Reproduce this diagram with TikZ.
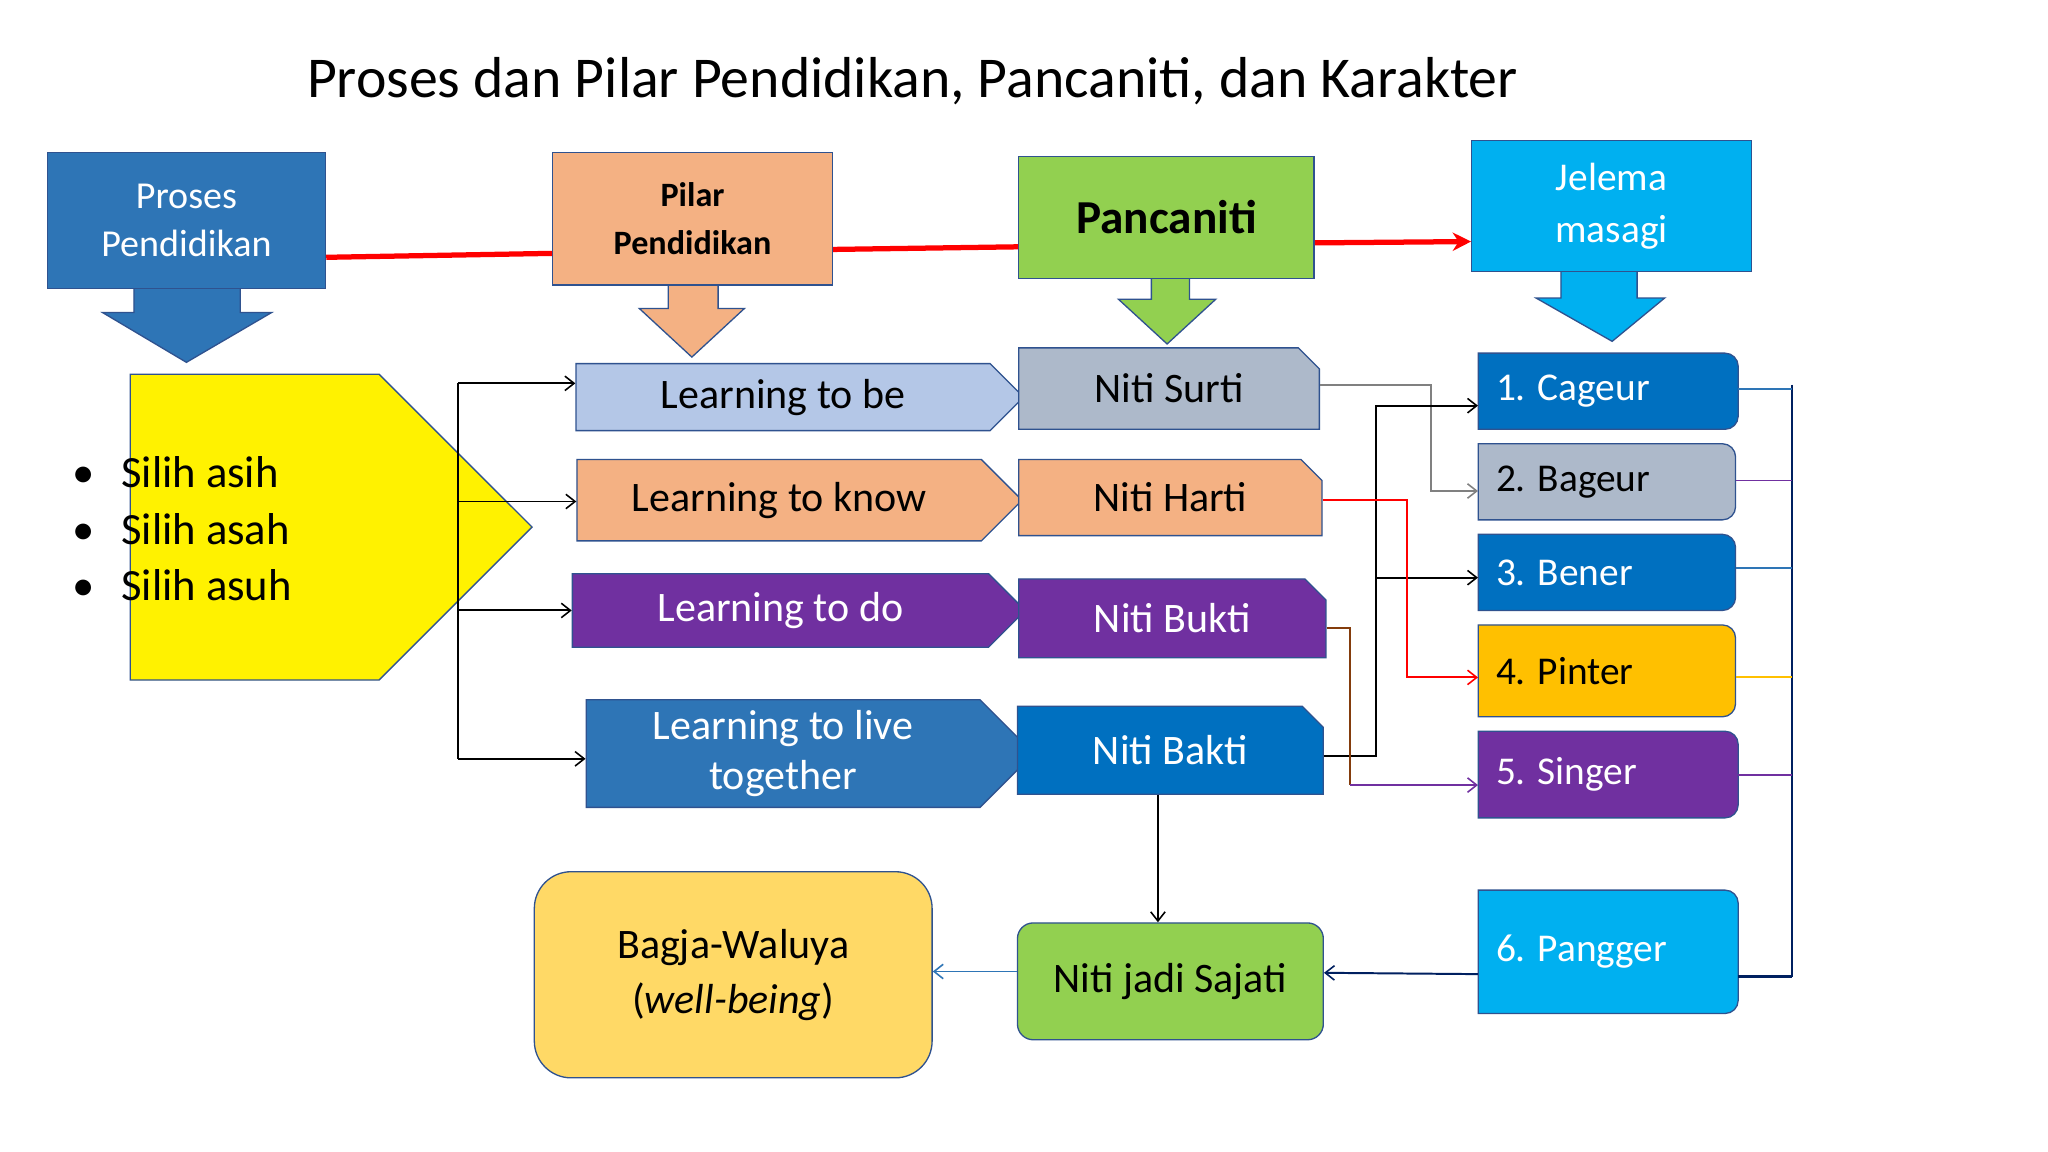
\documentclass[tikz,border=0pt]{standalone}
\usepackage{fontspec}
\setmainfont{Carlito}
\usetikzlibrary{shapes.misc,shapes.symbols,arrows.meta}
\definecolor{bdr}{HTML}{2F528F}
\definecolor{cblue}{HTML}{2E75B6}
\definecolor{cpeach}{HTML}{F4B183}
\definecolor{cgreen}{HTML}{92D050}
\definecolor{ccyan}{HTML}{00B0F0}
\definecolor{clight}{HTML}{B4C7E7}
\definecolor{cpurple}{HTML}{7030A0}
\definecolor{cdblue}{HTML}{0070C0}
\definecolor{cgray}{HTML}{ADB9CA}
\definecolor{cgold}{HTML}{FFC000}
\definecolor{cyel}{HTML}{FFD966}
\definecolor{cnavy}{HTML}{002060}
\definecolor{cbrown}{HTML}{843C0C}
\newcommand\myrbox[8]{%
  \filldraw[fill=#6,draw=bdr,line width=1pt] (#2,#5) -- (#2,#3) [rounded corners=10pt] -- (#4,#3) -- (#4,#5) [sharp corners] -- cycle;
  \node[inner sep=0,minimum width={(#4-#2)*1pt},minimum height={(#5-#3)*1pt}] (#1) at ({(#2+#4)/2},{(#3+#5)/2}) {};
  \node[anchor=west,text=#7,font=\fontsize{30}{34}\selectfont] at ({#2+10},{(#3+#5)/2}) {#8};}
\newcommand\mycbox[8]{%
  \node[chamfered rectangle,chamfered rectangle corners=north east,chamfered rectangle xsep=8pt,chamfered rectangle ysep=8pt,
    fill=#6,draw=bdr,line width=1pt,inner sep=0,minimum width={(#4-#2)*1pt},minimum height={(#5-#3)*1pt},
    text=#7,font=\fontsize{32}{36}\selectfont] (#1) at ({(#2+#4)/2},{(#3+#5)/2}) {#8};}
\newcommand\mysbox[8]{%
  \node[signal,signal to=east,signal from=nowhere,signal pointer angle=90,
    fill=#6,draw=bdr,line width=1pt,inner sep=0,minimum width={(#4-#2)*1pt},minimum height={(#5-#3)*1pt},
    text=#7,font=\fontsize{32}{38}\selectfont,align=center] (#1) at ({(#2+#4)/2},{(#3+#5)/2}) {#8};}
\tikzset{
  hdr/.style={draw=bdr,line width=1pt,inner sep=0,align=center},
  tip/.style={-{Straight Barb[length=7pt,width=11pt,line width=1.2pt]}},
  conn/.style={line width=1.5pt}
}
\begin{document}
\begin{tikzpicture}[x=1pt,y=-1pt]
\useasboundingbox[fill=white] (0,0) rectangle (1560,877.5);
\node[font=\fontsize{44}{50}\selectfont] (title) at (695,62) {Proses dan Pilar Pendidikan, Pancaniti, dan Karakter};

% headers
\filldraw[fill=cblue,draw=bdr,line width=1pt] (102,219)--(102,238)--(78,238)--(142,276)--(207,238)--(183,238)--(183,219)--cycle;
\node[hdr,fill=cblue,text=white,minimum width=212pt,minimum height=104pt,font=\fontsize{29}{36}\selectfont] (pp) at (142,168) {Proses\\Pendidikan};
\filldraw[fill=cpeach,draw=bdr,line width=1pt] (509,216)--(509,235)--(487,235)--(527,272)--(567,235)--(547,235)--(547,216)--cycle;
\node[hdr,fill=cpeach,minimum width=213pt,minimum height=101pt,font=\fontsize{26}{36}\selectfont\bfseries] (pil) at (527.5,166.5) {Pilar\\Pendidikan};
\filldraw[fill=cgreen,draw=bdr,line width=1pt] (877,211)--(877,228)--(852,228)--(889,262)--(926,228)--(906,228)--(906,211)--cycle;
\node[hdr,fill=cgreen,minimum width=225pt,minimum height=93pt,font=\fontsize{36}{40}\selectfont\bfseries] (pan) at (888.5,165.5) {Pancaniti};
\filldraw[fill=ccyan,draw=bdr,line width=1pt] (1189,206)--(1189,227)--(1170,227)--(1228,260)--(1268,227)--(1247,227)--(1247,206)--cycle;
\node[hdr,fill=ccyan,text=white,minimum width=213pt,minimum height=100pt,font=\fontsize{30}{40}\selectfont] (jel) at (1227.5,157) {Jelema\\masagi};

\draw[red,line width=4pt] (pp.east |- 0,196) -- (pil.west |- 0,193);
\draw[red,line width=4pt] (pil.east |- 0,190) -- (pan.west |- 0,188);
\draw[red,line width=4pt,-{Stealth[length=14pt,width=14pt]}] (pan.east |- 0,185) -- (jel.west |- 0,184);

% yellow pentagon
\node[signal,signal to=east,signal from=nowhere,signal pointer angle=90,fill=yellow,draw=bdr,line width=1pt,inner sep=0,
  minimum width=306pt,minimum height=233pt] (silih) at (194,401.5) {};
\node[anchor=west,align=left,font=\fontsize{34}{43}\selectfont] (silt) at (52,403) {•\hspace{20pt}Silih asih\\•\hspace{20pt}Silih asah\\•\hspace{20pt}Silih asuh};

% learning
\mysbox{l1}{426}{277}{767}{328}{clight}{black}{Learning to be}
\mysbox{l2}{424}{350}{763}{412}{cpeach}{black}{Learning to know}
\mysbox{l3}{422}{437}{767}{493}{cpurple}{white}{Learning to do}
\mysbox{l4}{426}{533}{767}{615}{cblue}{white}{Learning to live\\together}
\draw[conn] (349,292) -- (349,578);
\draw[conn,tip] (349,292) -- (l1.west |- 0,292);
\draw[conn,tip] (349,382) -- (l2.west |- 0,382);
\draw[conn,tip] (349,465) -- (l3.west |- 0,465);
\draw[conn,tip] (349,578) -- (l4.west |- 0,578);

% niti
\mycbox{ns}{776}{265}{1005}{327}{cgray}{black}{Niti Surti}
\mycbox{nh}{776}{350}{1007}{408}{cpeach}{black}{Niti Harti}
\mycbox{nbu}{776}{441}{1010}{501}{cpurple}{white}{Niti Bukti}
\mycbox{nba}{775}{538}{1008}{605}{cdblue}{white}{Niti Bakti}
\node[draw=bdr,line width=1pt,fill=cgreen,rounded corners=12pt,minimum width=233pt,minimum height=89pt,inner sep=0,font=\fontsize{32}{36}\selectfont] (nj) at (891.5,747.5) {Niti jadi Sajati};
\node[draw=bdr,line width=1pt,fill=cyel,rounded corners=28pt,minimum width=303pt,minimum height=157pt,inner sep=0,align=center,font=\fontsize{32}{42}\selectfont] (bw) at (558.5,742.5) {Bagja-Waluya\\(\textit{well-being})};

% jelema items
\myrbox{j1}{1126}{269}{1324}{327}{cdblue}{white}{1. Cageur}
\myrbox{j2}{1126}{338}{1322}{396}{cgray}{black}{2. Bageur}
\myrbox{j3}{1126}{407}{1322}{465}{cdblue}{white}{3. Bener}
\myrbox{j4}{1126}{476}{1322}{546}{cgold}{black}{4. Pinter}
\myrbox{j5}{1126}{557}{1324}{623}{cpurple}{white}{5. Singer}
\myrbox{j6}{1126}{678}{1324}{772}{ccyan}{white}{6. Pangger}

% connectors
\draw[conn,gray,tip] (ns.east |- 0,293) -| (1090,374) -- (j2.west |- 0,374);
\draw[conn,tip] (nba.east |- 0,576) -| (1048,309) -- (j1.west |- 0,309);
\draw[conn,tip] (1048,440) -- (j3.west |- 0,440);
\draw[conn,red,tip] (nh.east |- 0,381) -| (1072,516) -- (j4.west |- 0,516);
\draw[conn,cbrown] (nbu.east |- 0,478) -| (1028,598);
\draw[conn,cpurple,tip] (1028,598) -- (j5.west |- 0,598);

\draw[cnavy,line width=2pt] (1365,293) -- (1365,744);
\draw[conn,cblue] (j1.east |- 0,296) -- (1365,296);
\draw[conn,cpurple] (j2.east |- 0,366) -- (1365,366);
\draw[conn,cblue] (j3.east |- 0,433) -- (1365,433);
\draw[conn,cgold] (j4.east |- 0,516) -- (1365,516);
\draw[conn,cpurple] (j5.east |- 0,590) -- (1365,590);
\draw[cnavy,line width=2pt] (j6.east |- 0,744) -- (1365,744);

\draw[conn,cnavy,tip] (j6.west |- 0,742) -- (nj.east |- 0,741);
\draw[conn,tip] (nba.south -| 882,0) -- (nj.north -| 882,0);
\draw[conn,cblue,tip] (nj.west |- 0,740) -- (bw.east |- 0,740);
\end{tikzpicture}
\end{document}
